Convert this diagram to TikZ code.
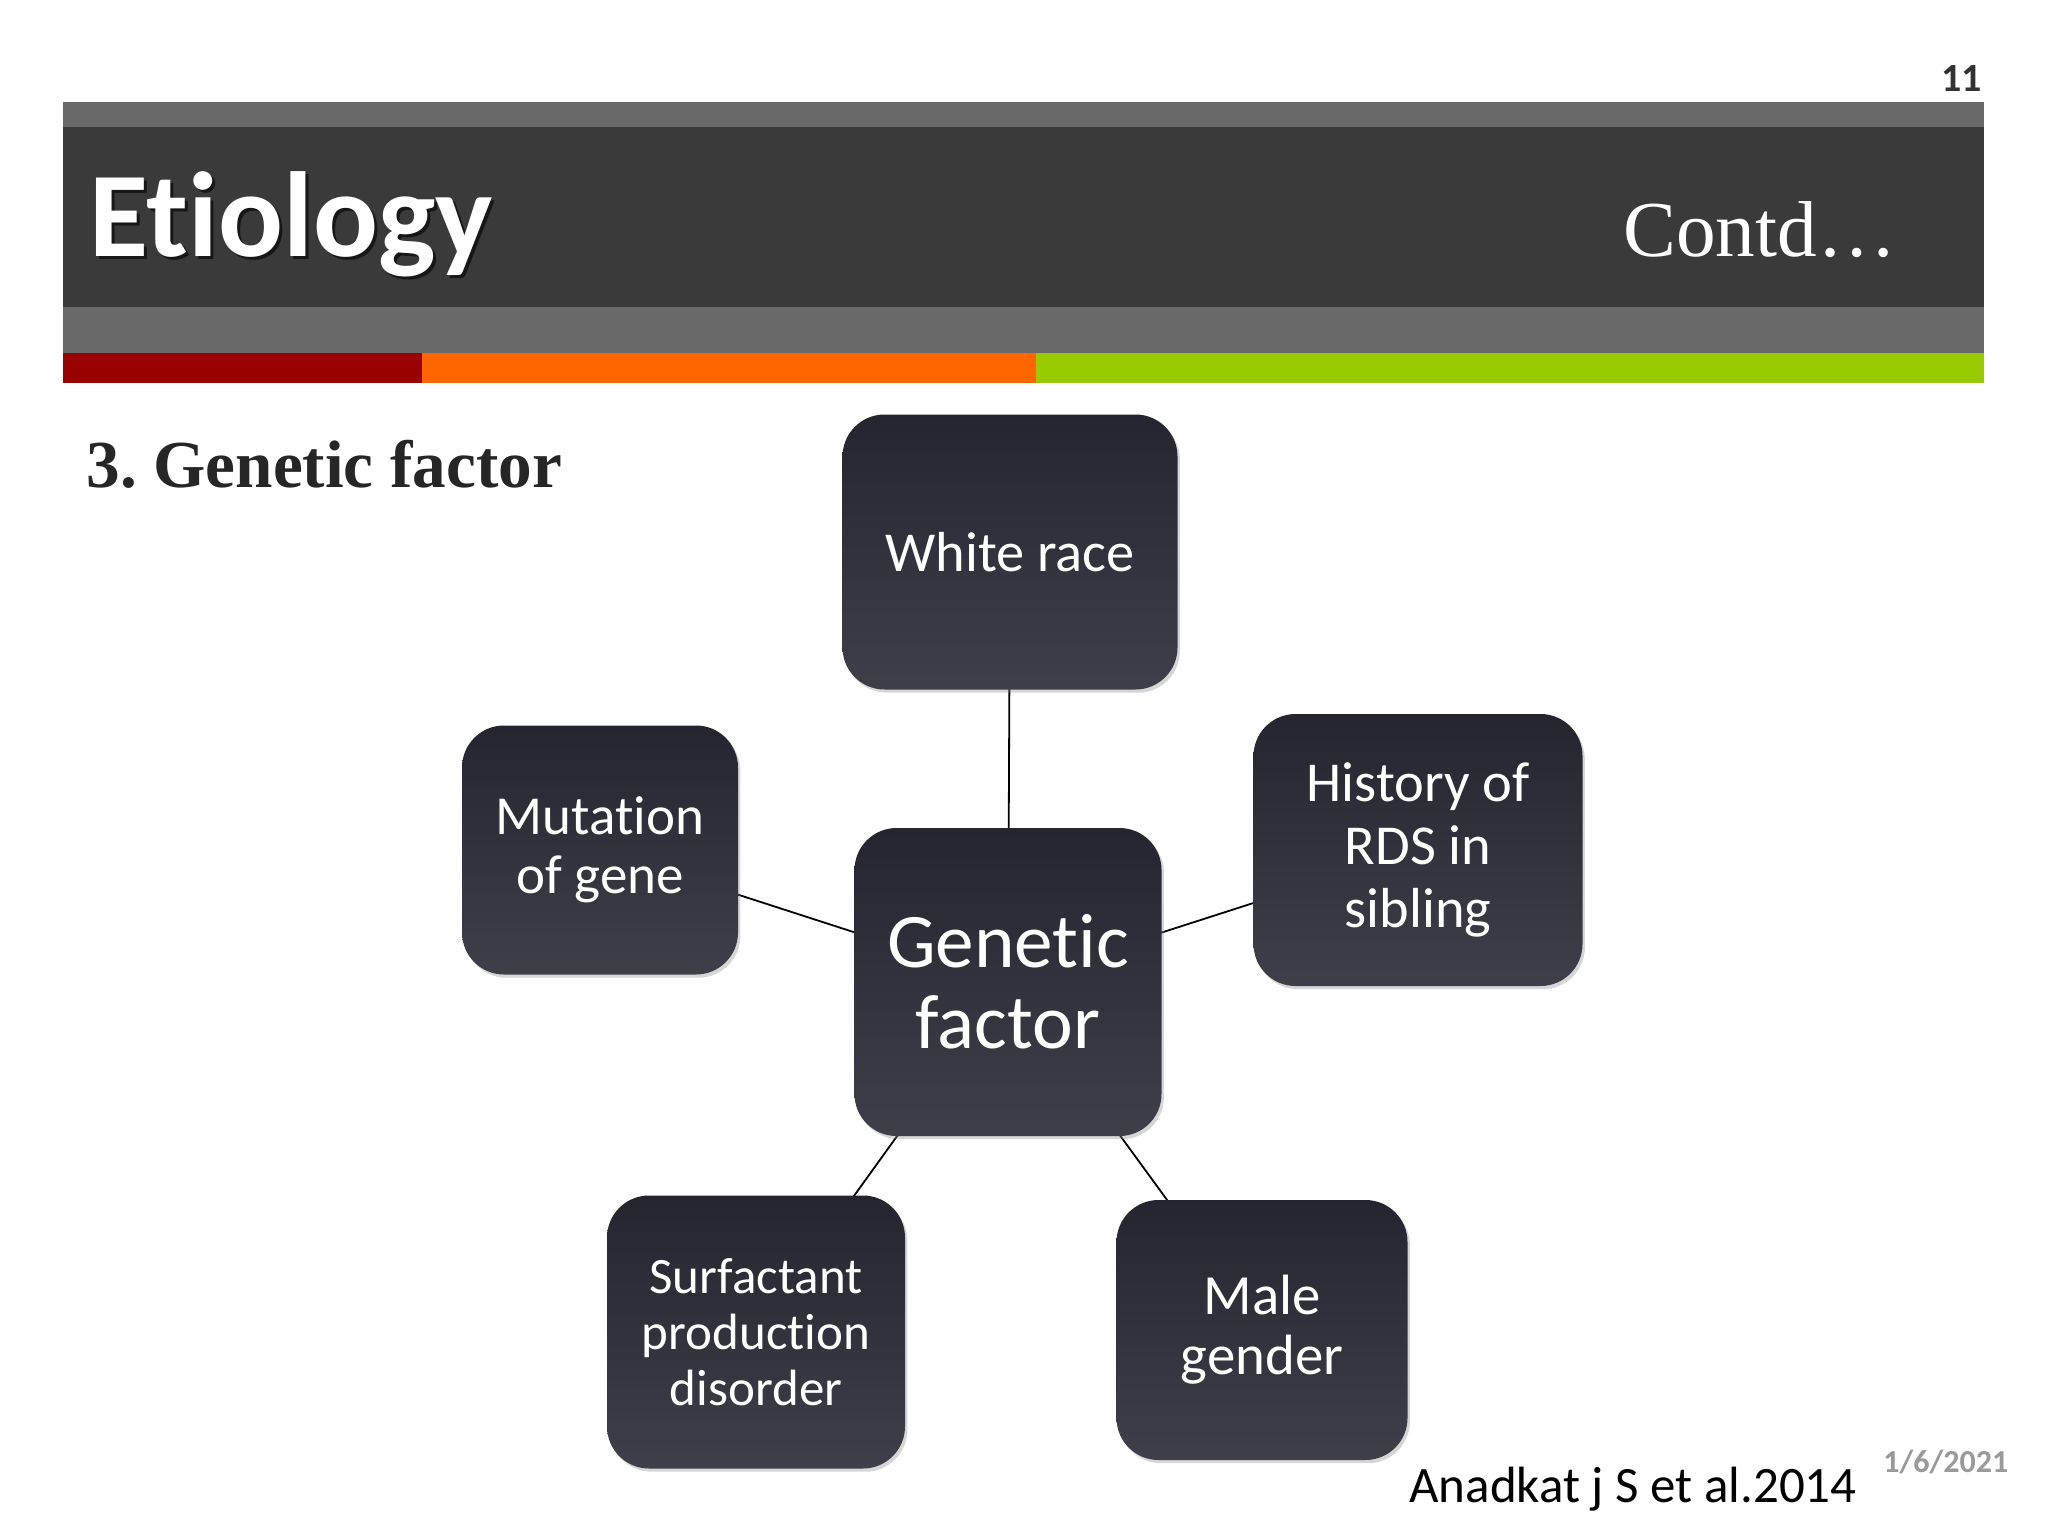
\documentclass[tikz,border=0pt]{standalone}
\usepackage{fontspec}
\setmainfont{Carlito}[RawFeature={-liga}]
\newfontfamily\timesf{Liberation Serif}
\usetikzlibrary{shadows}
\definecolor{bargray}{HTML}{696969}
\definecolor{bardark}{HTML}{3A3A3A}
\definecolor{barred}{HTML}{990000}
\definecolor{barorange}{HTML}{FF6600}
\definecolor{bargreen}{HTML}{99CC00}
\definecolor{boxtop}{HTML}{24252F}
\definecolor{boxbot}{HTML}{3F3F49}
\definecolor{dategray}{HTML}{9A9A9A}
\tikzset{
  fbox/.style={rectangle, rounded corners=21pt, inner sep=0pt, top color=boxtop, bottom color=boxbot,
    text=white, align=center,
    general shadow={fill=black!45, opacity=0.35, shadow xshift=1.2pt, shadow yshift=-1.6pt}},
  link/.style={draw=black, line width=0.9pt},
}
\newcommand{\fs}[1]{\fontsize{#1pt}{#1pt}\selectfont}
\newcommand{\fsl}[2]{\fontsize{#1pt}{#2pt}\selectfont}
\begin{document}
\begin{tikzpicture}[x=0.5pt,y=-0.5pt]
\useasboundingbox[fill=white] (0,0) rectangle (2048,1536);
% header
\fill[bargray] (63,102) rectangle (1984,353);
\fill[bardark] (63,127) rectangle (1984,307);
\fill[barred] (63,353) rectangle (422,383);
\fill[barorange] (422,353) rectangle (1036,383);
\fill[bargreen] (1036,353) rectangle (1984,383);
\node[anchor=base east, text=black!80, font=\bfseries\fs{20}, inner sep=0pt] (pnum) at (1982,91) {11};
\node[anchor=base west, text=black, opacity=0.6, font=\bfseries\fs{60.5}, inner sep=0pt] (titsh) at (92,259) {Etiology};
\node[anchor=base west, text=white, font=\bfseries\fs{60.5}, inner sep=0pt] (title) at (89,256) {Etiology};
\node[anchor=base west, text=white, font=\timesf\fs{39.6}, inner sep=0pt] (contd) at (1623,256) {Contd…};
\node[anchor=base west, text=black!85, font=\timesf\bfseries\fs{33.6}, inner sep=0pt] (sub) at (86,487) {3.\ Genetic factor};
% connectors (drawn first, under the boxes)
\coordinate (cw) at (1010,552);
\coordinate (cg) at (1008,982);
\coordinate (cm) at (600,850);
\coordinate (ch) at (1418,850);
\coordinate (cs) at (756,1332);
\coordinate (cma) at (1262,1330);
\draw[link] (cw) -- (cg);
\draw[link] (cm) -- (cg);
\draw[link] (ch) -- (cg);
\draw[link] (cs) -- (cg);
\draw[link] (cma) -- (cg);
% nodes
\node[fbox, minimum width=167.5pt, minimum height=137.5pt, font=\fs{28.2}] (white) at (cw) {White race};
\node[fbox, minimum width=153.5pt, minimum height=154pt, font=\fsl{38.6}{40.5}] (gen) at (cg) {Genetic\\factor};
\node[fbox, minimum width=138pt, minimum height=124.5pt, font=\fsl{27.5}{29.5}] (mut) at (cm) {Mutation\\of gene};
\node[fbox, minimum width=164.5pt, minimum height=136pt, font=\fsl{28.2}{31.5}] (hist) at (ch) {History of\\RDS in\\sibling};
\node[fbox, minimum width=149pt, minimum height=136.5pt, font=\fsl{25.5}{28}] (surf) at (cs) {Surfactant\\production\\disorder};
\node[fbox, minimum width=145.5pt, minimum height=130pt, font=\fsl{28.4}{30}] (male) at (cma) {Male\\gender};
% footer
\node[anchor=base west, text=black, font=\fs{25.5}, inner sep=0pt] (ref) at (1409,1502) {Anadkat j S et al.2014};
\node[anchor=base west, text=dategray, font=\bfseries\fs{16}, inner sep=0pt] (date) at (1883,1472) {1/6/2021};
\end{tikzpicture}
\end{document}
